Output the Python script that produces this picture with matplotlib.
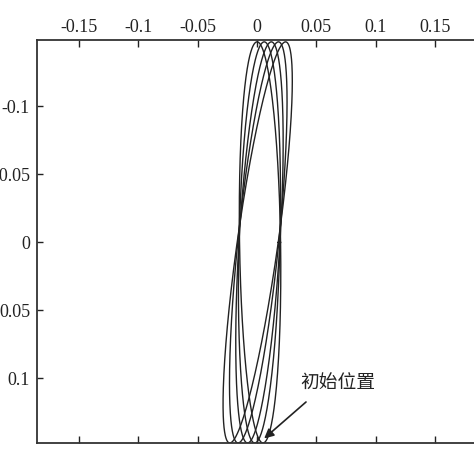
import numpy as np
import matplotlib
matplotlib.use('Agg')
import matplotlib.pyplot as plt

plt.rcParams['font.family'] = ['Liberation Serif', 'DejaVu Sans']

# x where each loop touches the top (y=-0.148) and the bottom (y=0.147)
loop_top_x = [0.000, 0.006, 0.012, 0.018, 0.024]
loop_bottom_x = [0.005, -0.002, -0.008, -0.016, -0.023]
loop_half_width = 0.0173   # half width of each loop at y = 0
loop_half_height = 0.1475

x_ticks = [-0.15, -0.1, -0.05, 0, 0.05, 0.1, 0.15]
x_tick_labels = ['-0.15', '-0.1', '-0.05', '0', '0.05', '0.1', '0.15']
y_ticks = [-0.1, -0.05, 0, 0.05, 0.1]
y_tick_labels = ['-0.1', '-0.05', '0', '0.05', '0.1']

label_text = '初始位置'
arrow_tip = (0.0042, 0.1455)
arrow_start = (0.043, 0.116)
label_pos = (0.068, 0.1035)

fig = plt.figure(figsize=(4.74, 4.74), dpi=100)
ax = fig.add_axes([0.078, 0.0654, 0.930, 0.850])

t = np.linspace(0, 2 * np.pi, 400)
for top, bot in zip(loop_top_x, loop_bottom_x):
    c = (top + bot) / 2
    s = (bot - top) / 2
    xs = c + loop_half_width * np.cos(t) + s * np.sin(t)
    ys = loop_half_height * np.sin(t)
    ax.plot(xs, ys, color='#222222', lw=1.0)

ax.set_xlim(-0.1855, 0.186)
ax.set_ylim(0.1475, -0.1488)

ax.set_xticks(x_ticks)
ax.set_xticklabels(x_tick_labels)
ax.set_yticks(y_ticks)
ax.set_yticklabels(y_tick_labels)
ax.tick_params(axis='x', top=True, bottom=True, labeltop=True, labelbottom=False,
               direction='in', length=5, width=1, pad=3, labelsize=13, colors='#222222')
ax.tick_params(axis='y', left=True, right=False, direction='in', length=4, width=1,
               pad=5, labelsize=13, colors='#222222')
for sp in ax.spines.values():
    sp.set_linewidth(1.3)
    sp.set_color('#333333')

ax.annotate('', xy=arrow_tip, xytext=arrow_start,
            arrowprops=dict(arrowstyle='-|>', color='#222222', lw=1.2, mutation_scale=14))
ax.text(label_pos[0], label_pos[1], label_text, ha='center', va='center', fontsize=13.5,
        family=['Noto Sans CJK SC', 'DejaVu Sans'], color='#222222')

fig.savefig('out.png', dpi=100)
